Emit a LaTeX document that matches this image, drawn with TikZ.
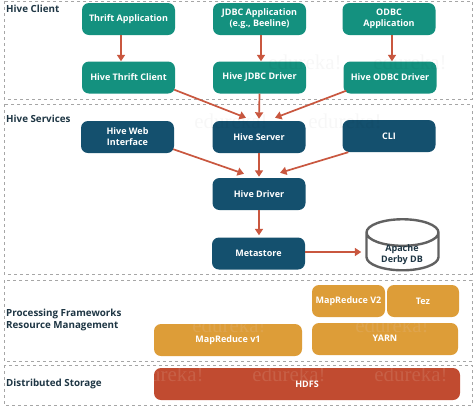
\documentclass[tikz,border=0pt]{standalone}
\usepackage{fontspec}
\setmainfont{Open Sans}
\newfontfamily\wmfont{Liberation Serif}
\usetikzlibrary{arrows.meta,shapes.geometric}
\definecolor{tealbox}{HTML}{14917F}
\definecolor{navybox}{HTML}{14506E}
\definecolor{goldbox}{HTML}{DD9D38}
\definecolor{redbox}{HTML}{C14B30}
\definecolor{linkred}{HTML}{C9573F}
\definecolor{heading}{HTML}{1E3644}
\definecolor{wmcolor}{HTML}{E8C8B8}

\begin{document}
\begin{tikzpicture}[x=1pt,y=-1pt,>={Triangle[length=6.5pt,width=8pt]}]
  \tikzstyle{panel}=[draw=black!35,dashed,line width=0.7pt]
  \tikzstyle{box}=[rounded corners=7pt,minimum width=93pt,minimum height=32pt,inner sep=0pt,align=center,text=white,font=\bfseries\fontsize{9}{11}\selectfont]
  \tikzstyle{client}=[box,fill=tealbox]
  \tikzstyle{service}=[box,fill=navybox]
  \tikzstyle{engine}=[box,fill=goldbox]
  \tikzstyle{layer}=[anchor=west,inner sep=0pt,align=left,text=heading,font=\bfseries\fontsize{9.8}{12}\selectfont]
  \tikzstyle{link}=[->,draw=linkred,line width=1.7pt]
  \tikzstyle{wmark}=[inner sep=0pt,text=wmcolor,text opacity=0.17,font=\wmfont\fontsize{21}{21}\selectfont]
  \tikzstyle{wmfaint}=[wmark,text=black,text opacity=0.03]
  \useasboundingbox (0,0) rectangle (474,408);
  % panels
  \fill[white] (0,0) rectangle (474,408);
  \draw[panel] (4,1) rectangle (472,99);
  \draw[panel] (4,104) rectangle (472,274);
  \draw[panel] (4,280) rectangle (472,361);
  \draw[panel] (4,365) rectangle (472,405);
  % layer names
  \node[layer] (hc) at (6,9) {Hive Client};
  \node[layer] (hs) at (6,119) {Hive Services};
  \node[layer] (pf) at (6,320) {Processing Frameworks\\Resource Management};
  \node[layer] (ds) at (6,384) {Distributed Storage};
  % client row
  \node[client] (tapp) at (128.5,19) {Thrift Application};
  \node[client] (japp) at (259.5,19) {JDBC Application\\(e.g., Beeline)};
  \node[client] (oapp) at (389,19) {ODBC\\Application};
  \node[client] (tcli) at (128.5,77.5) {Hive Thrift Client};
  \node[client] (jdrv) at (259.5,77.5) {Hive JDBC Driver};
  \node[client] (odrv) at (390,77.5) {Hive ODBC Driver};
  % services
  \node[service] (web) at (127.5,137) {Hive Web\\Interface};
  \node[service] (srv) at (259,137) {Hive Server};
  \node[service] (cli) at (389,136) {CLI};
  \node[service] (drv) at (259,194) {Hive Driver};
  \node[service] (meta) at (258.5,253.5) {Metastore};
  \node[cylinder,shape border rotate=90,aspect=0.95,draw=black!62,line width=2.4pt,fill=white,minimum width=72pt,minimum height=50pt,inner sep=0pt] (db) at (402.5,252) {\phantom{Derby}};
  \node[inner sep=0pt,align=center,text=heading,font=\bfseries\fontsize{9}{11}\selectfont] (dbtext) at (402,255) {Apache\\Derby DB};
  % engines
  \node[engine,minimum width=73pt] (mr2) at (348.5,301) {MapReduce V2};
  \node[engine,minimum width=72pt] (tez) at (423,301) {Tez};
  \node[engine,minimum width=148pt] (mr1) at (228,340) {MapReduce v1};
  \node[engine,minimum width=146pt] (yarn) at (385,339) {\raisebox{1pt}{YARN}};
  \node[box,fill=redbox,minimum width=306pt] (hdfs) at (307,384) {\raisebox{-2.5pt}{HDFS}};
  % links
  \draw[link] ([xshift=-7.5pt]tapp.south) -- ([xshift=-7.5pt]tcli.north);
  \draw[link] ([xshift=1.5pt]japp.south) -- ([xshift=1.5pt]jdrv.north);
  \draw[link] ([xshift=3pt]oapp.south) -- ([xshift=2pt]odrv.north);
  \draw[link] (tcli.south east) ++(-1,-4) -- ([xshift=-13pt,yshift=3pt]srv.north);
  \draw[link] (jdrv.south) -- ([yshift=2pt]srv.north);
  \draw[link] (odrv.south west) ++(3,-3) -- ([xshift=16pt,yshift=3pt]srv.north);
  \draw[link] (web.south east) ++(-1,-4) -- ([xshift=-15pt,yshift=4pt]drv.north);
  \draw[link] (srv.south) -- ([yshift=1pt]drv.north);
  \draw[link] (cli.south west) ++(6,0) -- ([xshift=21pt,yshift=5pt]drv.north);
  \draw[link] (drv.south) -- ([xshift=0.5pt,yshift=2pt]meta.north);
  \coordinate (dbin) at ([xshift=-4pt]db.west);
  \draw[link] (meta.east |- dbin) -- (dbin);
  % watermark
  \node[wmfaint] (wm1) at (305,62) {edureka!};
  \node[wmfaint] (wm2) at (410,62) {edureka!};
  \node[wmfaint] (wm3) at (231,121) {edureka!};
  \node[wmfaint] (wm4) at (345,121) {edureka!};
  \begin{scope}
    \clip[rounded corners=7pt] (mr1.north west) rectangle (mr1.south east);
    \node[wmark] (wm5) at (229,325) {edureka!};
  \end{scope}
  \begin{scope}
    \clip[rounded corners=7pt] (yarn.north west) rectangle (yarn.south east);
    \node[wmark] (wm6) at (392,325) {edureka!};
  \end{scope}
  \begin{scope}
    \clip[rounded corners=7pt] (hdfs.north west) rectangle (hdfs.south east);
    \foreach \i/\wx in {7/167,8/289,9/411}
      \node[wmark] (wm\i) at (\wx,374) {edureka!};
  \end{scope}
\end{tikzpicture}
\end{document}
